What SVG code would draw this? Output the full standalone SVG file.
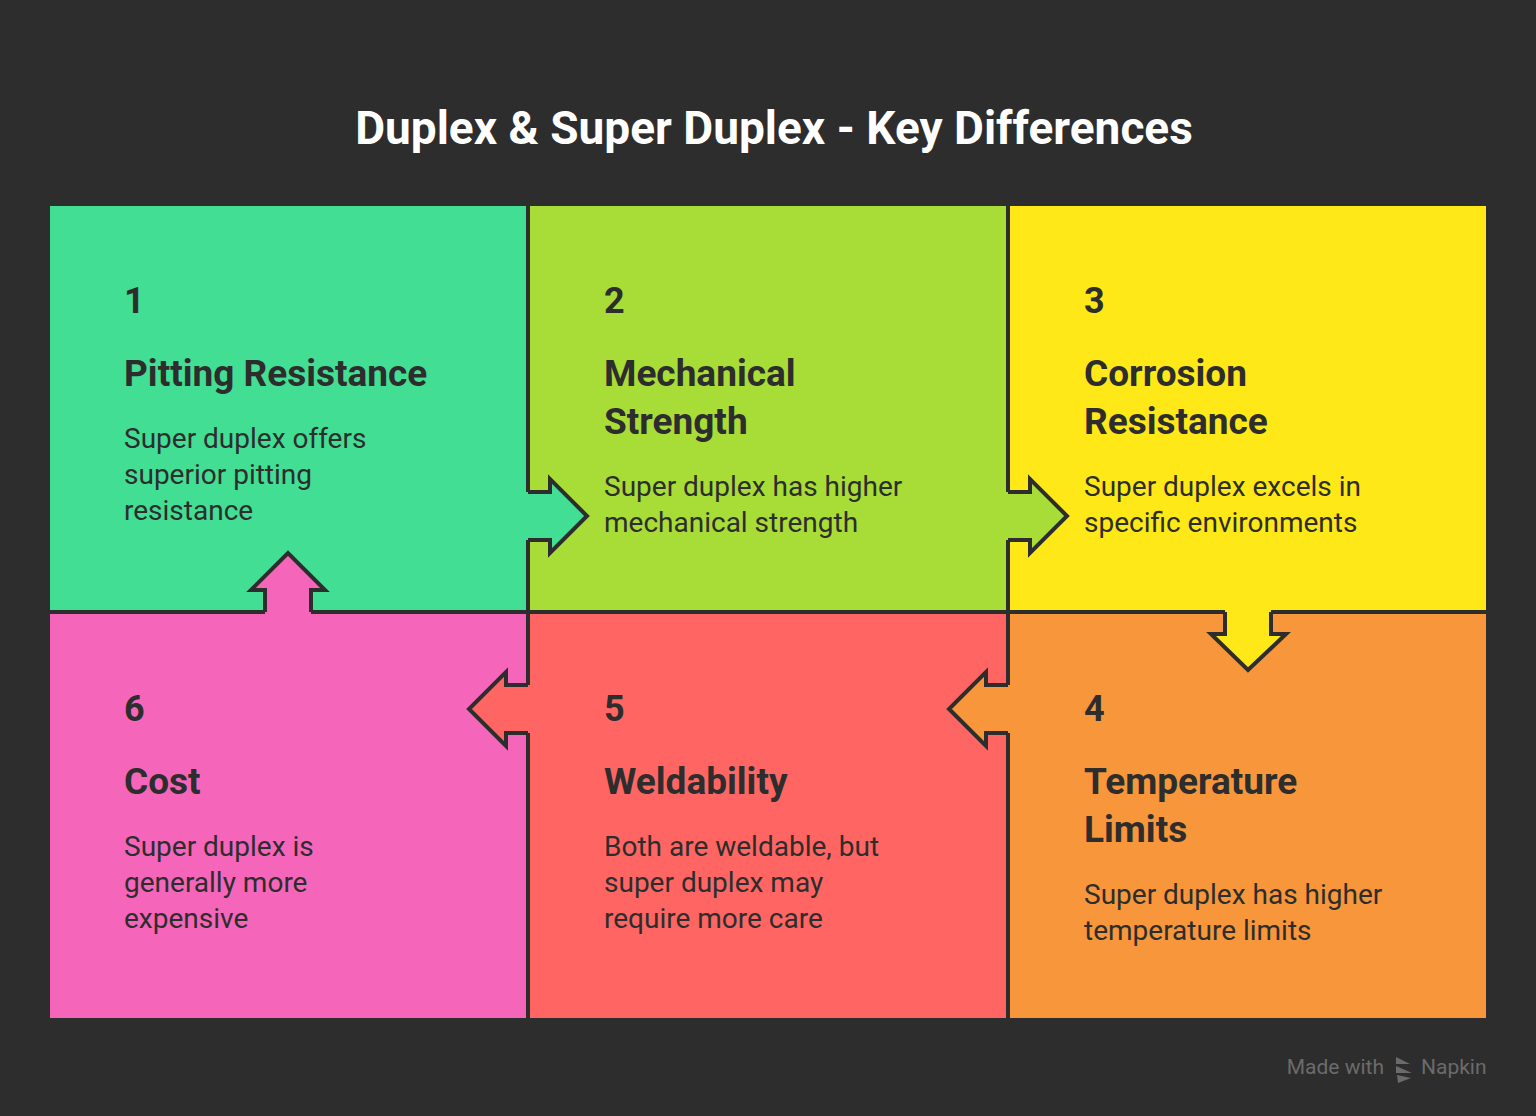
<svg xmlns="http://www.w3.org/2000/svg" width="1536" height="1116" viewBox="0 0 1536 1116">
<style>
.t{font-family:Roboto,"Liberation Sans",sans-serif;fill:#2d2d2d}
.n{font-size:36px;font-weight:bold}
.h{font-size:37px;font-weight:bold}
.b{font-size:28px}
.ln{stroke:#2d2d2d;stroke-width:4;fill:none;stroke-linejoin:miter}
</style>
<rect width="1536" height="1116" fill="#2d2d2d"/>
<text x="774" y="144" text-anchor="middle" font-family="Roboto,'Liberation Sans',sans-serif" font-size="46" font-weight="bold" fill="#ffffff">Duplex &amp; Super Duplex - Key Differences</text>
<g id="tiles">
<rect x="50" y="206" width="478" height="406" fill="#42DE94"/>
<rect x="528" y="206" width="480" height="406" fill="#A8DC36"/>
<rect x="1008" y="206" width="478" height="406" fill="#FFE817"/>
<rect x="50" y="612" width="478" height="406" fill="#F566BB"/>
<rect x="528" y="612" width="480" height="406" fill="#FF6663"/>
<rect x="1008" y="612" width="478" height="406" fill="#F7963A"/>
</g>
<g id="connectors">
<path class="ln" d="M528 206V1018M1008 206V1018M50 612H1486"/>
<polygon points="526,492 550,492 550,479 587,516 550,553 550,540 526,540" fill="#42DE94"/>
<polyline class="ln" points="528,492 550,492 550,479 587,516 550,553 550,540 528,540"/>
<polygon points="1006,492 1030,492 1030,479 1067,516 1030,553 1030,540 1006,540" fill="#A8DC36"/>
<polyline class="ln" points="1008,492 1030,492 1030,479 1067,516 1030,553 1030,540 1008,540"/>
<polygon points="1225,610 1225,634 1211,634 1248,670 1286,634 1271,634 1271,610" fill="#FFE817"/>
<polyline class="ln" points="1225,612 1225,634 1211,634 1248,670 1286,634 1271,634 1271,612"/>
<polygon points="1010,685 986,685 986,672 949,709 986,746 986,733 1010,733" fill="#F7963A"/>
<polyline class="ln" points="1008,685 986,685 986,672 949,709 986,746 986,733 1008,733"/>
<polygon points="530,685 506,685 506,672 469,709 506,746 506,733 530,733" fill="#FF6663"/>
<polyline class="ln" points="528,685 506,685 506,672 469,709 506,746 506,733 528,733"/>
<polygon points="265,614 265,590 251,590 288,553 325,590 311,590 311,614" fill="#F566BB"/>
<polyline class="ln" points="265,612 265,590 251,590 288,553 325,590 311,590 311,612"/>
</g>
<g id="node1" class="t"><text class="t n" x="124" y="313">1</text><text class="t h" x="124" y="386">Pitting Resistance</text><text class="t b" x="124" y="448">Super duplex offers</text><text class="t b" x="124" y="484">superior pitting</text><text class="t b" x="124" y="520">resistance</text></g>
<g id="node2"><text class="t n" x="604" y="313">2</text><text class="t h" x="604" y="386">Mechanical</text><text class="t h" x="604" y="434">Strength</text><text class="t b" x="604" y="496">Super duplex has higher</text><text class="t b" x="604" y="532">mechanical strength</text></g>
<g id="node3"><text class="t n" x="1084" y="313">3</text><text class="t h" x="1084" y="386">Corrosion</text><text class="t h" x="1084" y="434">Resistance</text><text class="t b" x="1084" y="496">Super duplex excels in</text><text class="t b" x="1084" y="532">specific environments</text></g>
<g id="node4"><text class="t n" x="1084" y="721">4</text><text class="t h" x="1084" y="794">Temperature</text><text class="t h" x="1084" y="842">Limits</text><text class="t b" x="1084" y="904">Super duplex has higher</text><text class="t b" x="1084" y="940">temperature limits</text></g>
<g id="node5"><text class="t n" x="604" y="721">5</text><text class="t h" x="604" y="794">Weldability</text><text class="t b" x="604" y="856">Both are weldable, but</text><text class="t b" x="604" y="892">super duplex may</text><text class="t b" x="604" y="928">require more care</text></g>
<g id="node6"><text class="t n" x="124" y="721">6</text><text class="t h" x="124" y="794">Cost</text><text class="t b" x="124" y="856">Super duplex is</text><text class="t b" x="124" y="892">generally more</text><text class="t b" x="124" y="928">expensive</text></g>
<g id="footer" fill="#6b6b6b">
<text x="1384" y="1074" text-anchor="end" font-family="Roboto,'Liberation Sans',sans-serif" font-size="21">Made with</text>
<path d="M1396 1057l14 7-14 0zM1396 1066l16 7-16 0zM1397 1075l14 3-13 5z"/>
<text x="1421" y="1074" font-family="Roboto,'Liberation Sans',sans-serif" font-size="21">Napkin</text>
</g>
</svg>
